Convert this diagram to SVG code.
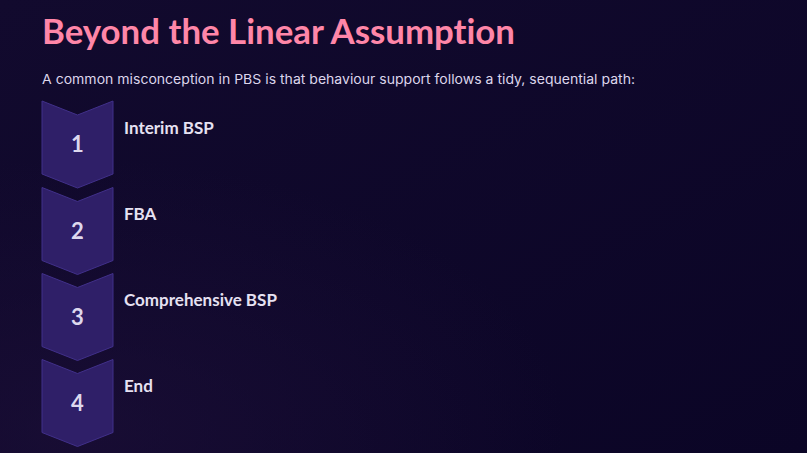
<svg xmlns="http://www.w3.org/2000/svg" width="807" height="453" viewBox="0 0 807 453">
<defs>
<linearGradient id="bg" x1="0" y1="0" x2="1" y2="1">
<stop offset="0" stop-color="#120a2e"/>
<stop offset="1" stop-color="#0b0526"/>
</linearGradient>
<radialGradient id="glow" cx="0.1" cy="0.95" r="0.6">
<stop offset="0" stop-color="#1c0f38" stop-opacity="0.7"/>
<stop offset="1" stop-color="#1c0f38" stop-opacity="0"/>
</radialGradient>
<path id="chev" d="M0,0 L35.5,14 L71,0 L71,73 L35.5,87 L0,73 Z"/>
</defs>
<style>
text{font-variant-ligatures:none}
.chev{fill:#2f1f68;stroke:#41308a;stroke-width:1}
.num{font-family:Lato,"Open Sans",sans-serif;font-weight:700;font-size:22px;fill:#ddd8ee;text-anchor:middle}
.lbl{font-family:Lato,"Open Sans",sans-serif;font-weight:700;font-size:17px;fill:#e6e1f2}
</style>
<rect width="807" height="453" fill="url(#bg)"/>
<rect width="807" height="453" fill="url(#glow)"/>
<text x="42" y="44" font-family="Lato, 'Open Sans', sans-serif" font-weight="700" font-size="34" fill="#ff86a8" textLength="473" lengthAdjust="spacingAndGlyphs">Beyond the Linear Assumption</text>
<text x="42" y="84" font-family="Inter, 'Liberation Sans', sans-serif" font-size="13" fill="#ddd6ec" textLength="593" lengthAdjust="spacingAndGlyphs">A common misconception in PBS is that behaviour support follows a tidy, sequential path:</text>
<g id="connectors"></g>
<g id="step1">
<use href="#chev" class="chev" x="42" y="101"/>
<text class="num" x="77.5" y="152">1</text>
<text class="lbl" x="124" y="134">Interim BSP</text>
</g>
<g id="step2">
<use href="#chev" class="chev" x="42" y="187.5"/>
<text class="num" x="77.5" y="238.5">2</text>
<text class="lbl" x="124" y="220">FBA</text>
</g>
<g id="step3">
<use href="#chev" class="chev" x="42" y="273.5"/>
<text class="num" x="77.5" y="324.5">3</text>
<text class="lbl" x="124" y="306">Comprehensive BSP</text>
</g>
<g id="step4">
<use href="#chev" class="chev" x="42" y="359.5"/>
<text class="num" x="77.5" y="410.5">4</text>
<text class="lbl" x="124" y="392">End</text>
</g>
</svg>
